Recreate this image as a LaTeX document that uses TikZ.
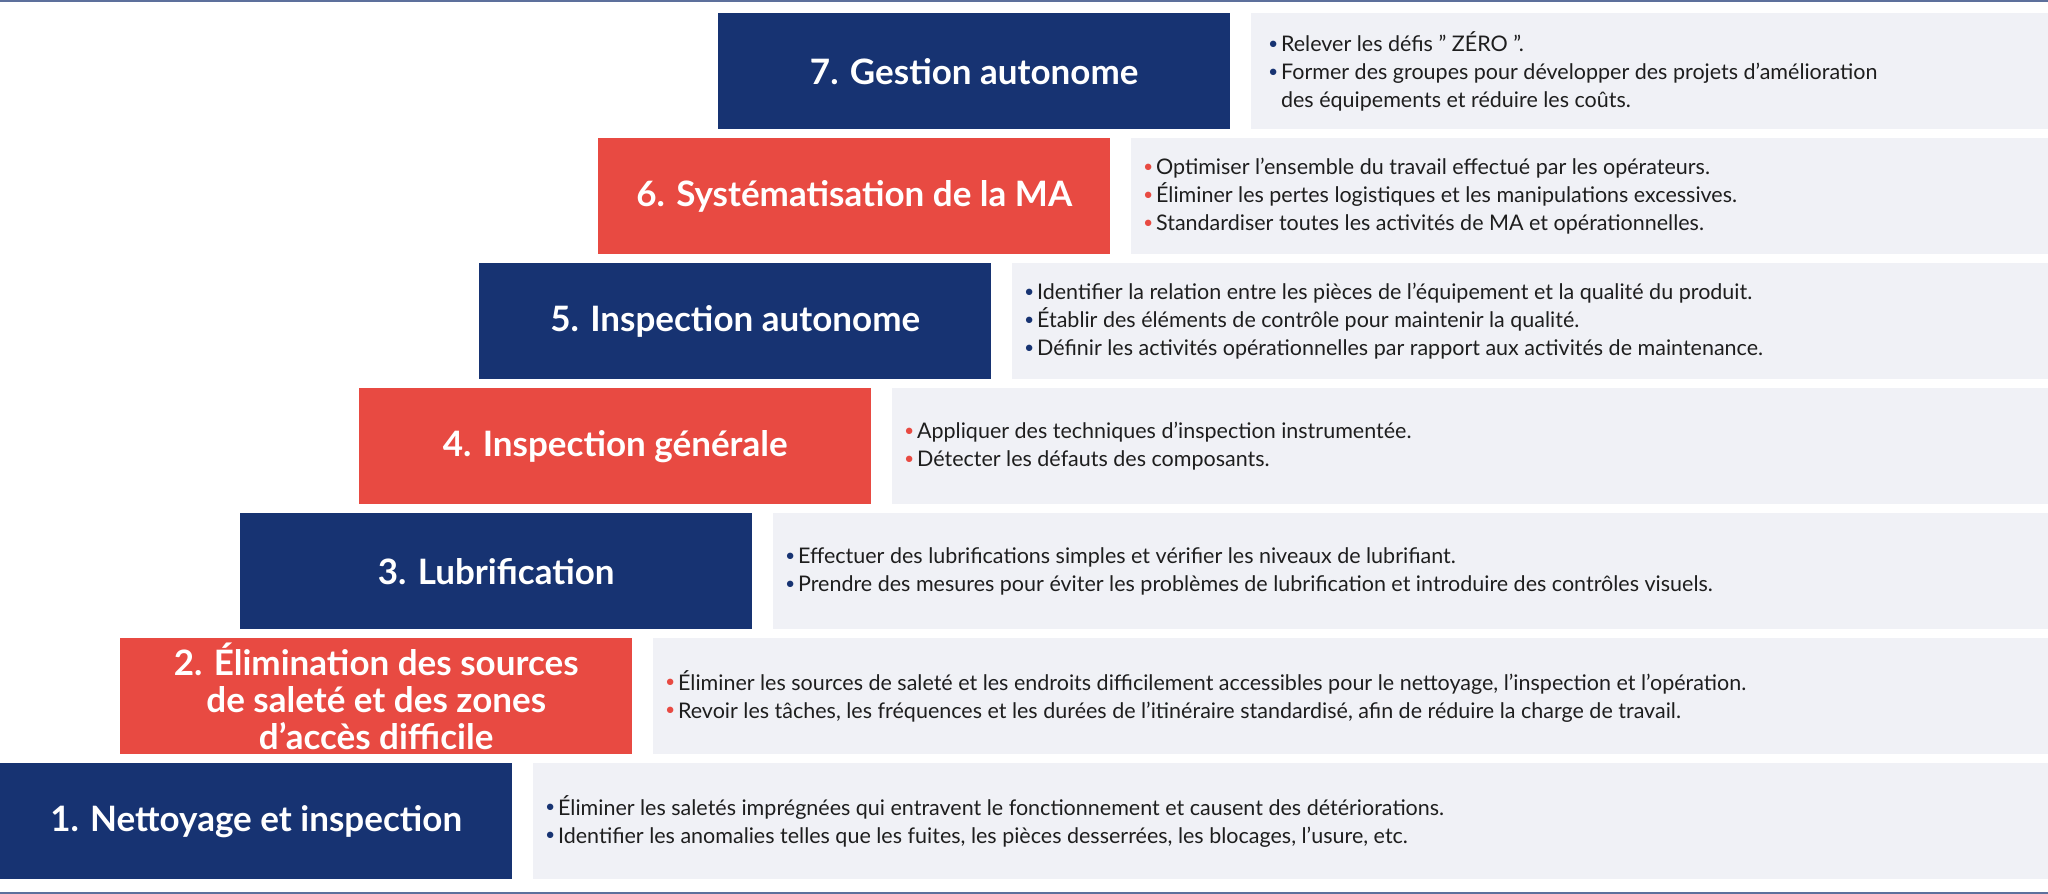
\documentclass[tikz,border=0pt]{standalone}
\usepackage{fontspec}
\setmainfont{Lato}
\definecolor{cblue}{HTML}{173372}
\definecolor{cred}{HTML}{E84A42}
\definecolor{cpanel}{HTML}{F0F1F6}
\definecolor{ctext}{HTML}{1E1E1E}
\tikzset{
  title/.style={fill=#1, text=white, font=\fontsize{35}{40}\selectfont\bfseries, minimum width=512pt, minimum height=116pt, anchor=north west, align=center, inner sep=0pt},
  panel/.style={fill=cpanel, minimum height=116pt, anchor=north west, inner sep=0pt},
  body/.style={text=ctext, font=\fontsize{21.5}{28}\selectfont, anchor=west, align=left, inner sep=0pt},
}
\newcommand{\bul}[1]{\textcolor{#1}{\raisebox{0.15em}{\scalebox{0.8}{$\bullet$}}}\,}
\begin{document}
\begin{tikzpicture}[x=1pt,y=1pt]
\useasboundingbox (0,0) rectangle (2048,-894);
\fill[cblue!70] (0,0) rectangle (2048,-1.5);
\fill[cblue!70] (0,-892) rectangle (2048,-894);
% rows
\foreach \i/\x/\y/\c in {7/718/13/cblue,6/598/138/cred,5/479/263/cblue,4/359/388/cred,3/240/513/cblue,2/120/638/cred,1/0/763/cblue}{
  \node[panel, minimum width={2048-\x-533}] (p\i) at ({\x+533},-\y) {};
}
\node[title=cblue] (t7) at (718,-13) {7. Gestion autonome};
\node[title=cred] (t6) at (598,-138) {6. Systématisation de la MA};
\node[title=cblue] (t5) at (479,-263) {5. Inspection autonome};
\node[title=cred] (t4) at (359,-388) {4. Inspection générale};
\node[title=cblue] (t3) at (240,-513) {3. Lubrification};
\node[title=cred, font=\fontsize{35}{37}\selectfont\bfseries] (t2) at (120,-638) {2. Élimination des sources\\de saleté et des zones\\d'accès difficile};
\node[title=cblue] (t1) at (0,-763) {1. Nettoyage et inspection};
\node[body] (b7) at ([xshift=18pt]p7.west) {\bul{cblue}Relever les défis " ZÉRO ".\\\bul{cblue}Former des groupes pour développer des projets d'amélioration\\\phantom{\bul{cblue}}des équipements et réduire les coûts.};
\node[body] (b6) at ([xshift=13pt]p6.west) {\bul{cred}Optimiser l'ensemble du travail effectué par les opérateurs.\\\bul{cred}Éliminer les pertes logistiques et les manipulations excessives.\\\bul{cred}Standardiser toutes les activités de MA et opérationnelles.};
\node[body] (b5) at ([xshift=13pt]p5.west) {\bul{cblue}Identifier la relation entre les pièces de l'équipement et la qualité du produit.\\\bul{cblue}Établir des éléments de contrôle pour maintenir la qualité.\\\bul{cblue}Définir les activités opérationnelles par rapport aux activités de maintenance.};
\node[body] (b4) at ([xshift=13pt]p4.west) {\bul{cred}Appliquer des techniques d'inspection instrumentée.\\\bul{cred}Détecter les défauts des composants.};
\node[body] (b3) at ([xshift=13pt]p3.west) {\bul{cblue}Effectuer des lubrifications simples et vérifier les niveaux de lubrifiant.\\\bul{cblue}Prendre des mesures pour éviter les problèmes de lubrification et introduire des contrôles visuels.};
\node[body] (b2) at ([xshift=13pt]p2.west) {\bul{cred}Éliminer les sources de saleté et les endroits difficilement accessibles pour le nettoyage, l'inspection et l'opération.\\\bul{cred}Revoir les tâches, les fréquences et les durées de l'itinéraire standardisé, afin de réduire la charge de travail.};
\node[body] (b1) at ([xshift=13pt]p1.west) {\bul{cblue}Éliminer les saletés imprégnées qui entravent le fonctionnement et causent des détériorations.\\\bul{cblue}Identifier les anomalies telles que les fuites, les pièces desserrées, les blocages, l'usure, etc.};
\end{tikzpicture}
\end{document}
